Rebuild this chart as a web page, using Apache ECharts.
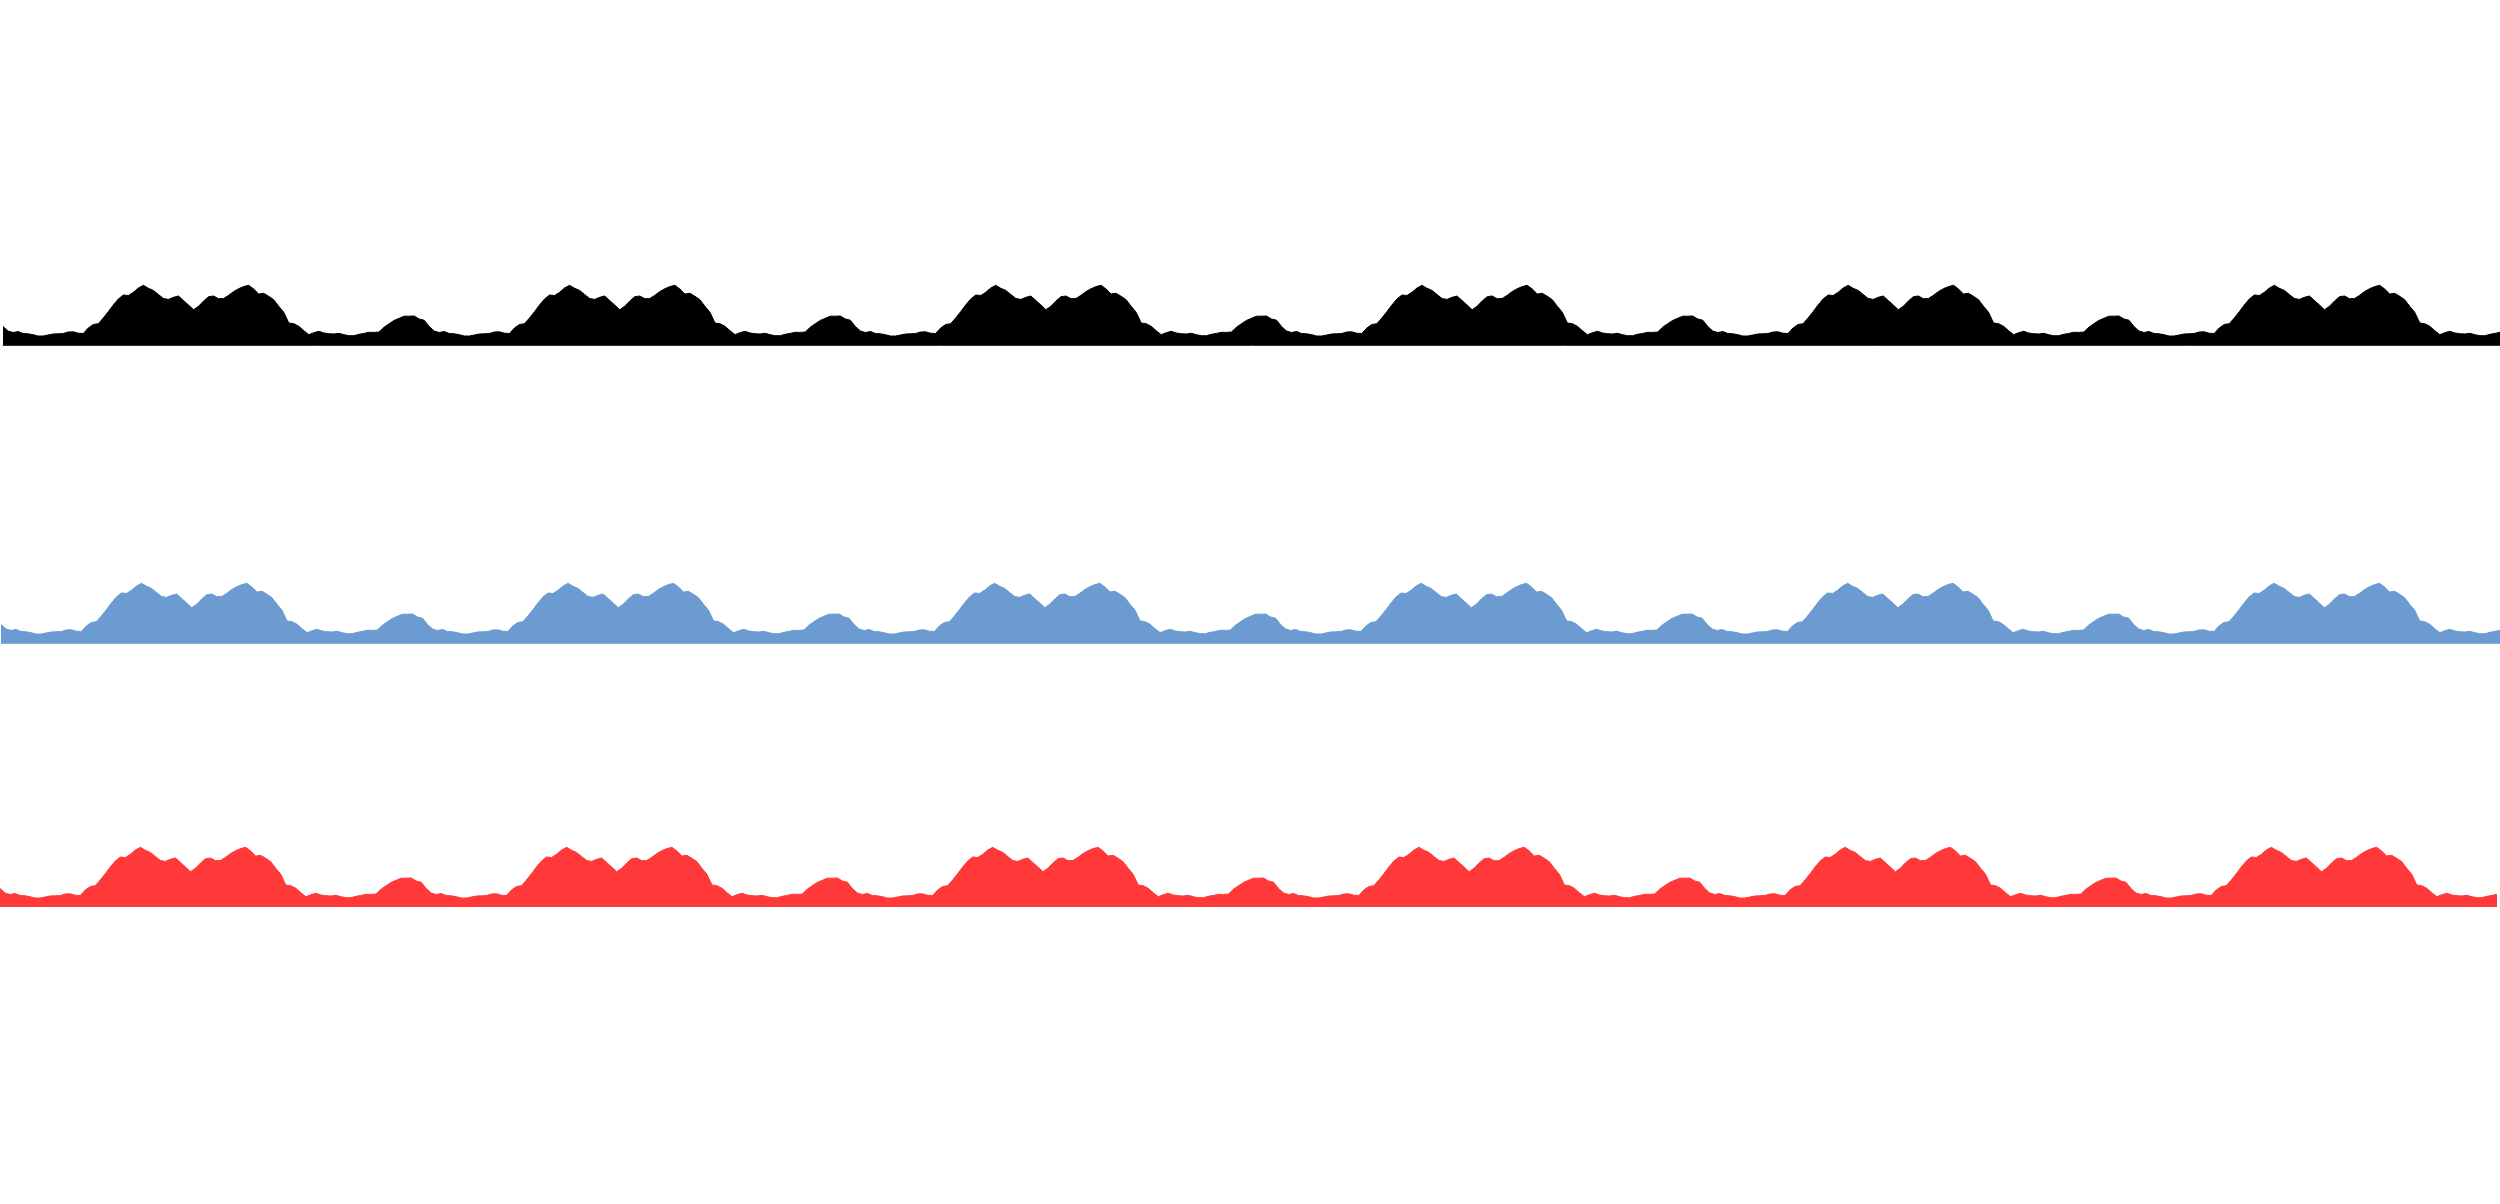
<!DOCTYPE html>
<html>
<head>
<meta charset="utf-8">
<script src="https://cdn.jsdelivr.net/npm/echarts@6/dist/echarts.min.js"></script>
<style>
html,body{margin:0;padding:0;background:#fff;}
#chart{width:2500px;height:1204px;}
</style>
</head>
<body>
<div id="chart"></div>
<script>
// Heights (same terrain profile in all three panels)
const values = [
18.5,14,12.5,13.5,11.5,11.2,10.3,9,9,10,11,11.2,11.5,13,13.2,11.8,11.5,17,20.5,21.3,27,33.3,40,46,50,49.5,52.7,57,59.7,56.7,54.6,50.5,46.5,45.6,47.7,49,44.5,40,35.3,38.8,44,48.3,49,46.3,46.5,49.7,53.5,56.3,58.4,59.7,56,51,51.7,48.7,45.3,38.7,32.7,22,21.3,18.7,14.3,10.3,12.3,13.7,12,11.3,11,11.7,10.3,9.3,9.3,10.7,11.6,12.7,12.6,13,17.8,21.3,24.6,26.7,28.8,28.8,29,26,24.8,
18.5,14,12.5,13.5,11.5,11.2,10.3,9,9,10,11,11.2,11.5,13,13.2,11.8,11.5,17,20.5,21.3,27,33.3,40,46,50,49.5,52.7,57,59.7,56.7,54.6,50.5,46.5,45.6,47.7,49,44.5,40,35.3,38.8,44,48.3,49,46.3,46.5,49.7,53.5,56.3,58.4,59.7,56,51,51.7,48.7,45.3,38.7,32.7,22,21.3,18.7,14.3,10.3,12.3,13.7,12,11.3,11,11.7,10.3,9.3,9.3,10.7,11.6,12.7,12.6,13,17.8,21.3,24.6,26.7,28.8,28.8,29,26,24.8,
18.5,14,12.5,13.5,11.5,11.2,10.3,9,9,10,11,11.2,11.5,13,13.2,11.8,11.5,17,20.5,21.3,27,33.3,40,46,50,49.5,52.7,57,59.7,56.7,54.6,50.5,46.5,45.6,47.7,49,44.5,40,35.3,38.8,44,48.3,49,46.3,46.5,49.7,53.5,56.3,58.4,59.7,56,51,51.7,48.7,45.3,38.7,32.7,22,21.3,18.7,14.3,10.3,12.3,13.7,12,11.3,11,11.7,10.3,9.3,9.3,10.7,11.6,12.7,12.6,13,17.8,21.3,24.6,26.7,28.8,28.8,29,26,24.8,
18.5,14,12.5,13.5,11.5,11.2,10.3,9,9,10,11,11.2,11.5,13,13.2,11.8,11.5,17,20.5,21.3,27,33.3,40,46,50,49.5,52.7,57,59.7,56.7,54.6,50.5,46.5,45.6,47.7,49,44.5,40,35.3,38.8,44,48.3,49,46.3,46.5,49.7,53.5,56.3,58.4,59.7,56,51,51.7,48.7,45.3,38.7,32.7,22,21.3,18.7,14.3,10.3,12.3,13.7,12,11.3,11,11.7,10.3,9.3,9.3,10.7,11.6,12.7,12.6,13,17.8,21.3,24.6,26.7,28.8,28.8,29,26,24.8,
18.5,14,12.5,13.5,11.5,11.2,10.3,9,9,10,11,11.2,11.5,13,13.2,11.8,11.5,17,20.5,21.3,27,33.3,40,46,50,49.5,52.7,57,59.7,56.7,54.6,50.5,46.5,45.6,47.7,49,44.5,40,35.3,38.8,44,48.3,49,46.3,46.5,49.7,53.5,56.3,58.4,59.7,56,51,51.7,48.7,45.3,38.7,32.7,22,21.3,18.7,14.3,10.3,12.3,13.7,12,11.3,11,11.7,10.3,9.3,9.3,10.7,11.6,12.7,12.6,13,17.8,21.3,24.6,26.7,28.8,28.8,29,26,24.8,
18.5,14,12.5,13.5,11.5,11.2,10.3,9,9,10,11,11.2,11.5,13,13.2,11.8,11.5,17,20.5,21.3,27,33.3,40,46,50,49.5,52.7,57,59.7,56.7,54.6,50.5,46.5,45.6,47.7,49,44.5,40,35.3,38.8,44,48.3,49,46.3,46.5,49.7,53.5,56.3,58.4,59.7,56,51,51.7,48.7,45.3,38.7,32.7,22,21.3,18.7,14.3,10.3,12.3,13.7,12,11.3,11,11.7,10.3,9.3,9.3,10.7,11.6,12.7
];
const categories = values.map((v, i) => i);
const seriesColors = ['#000000', '#6b9bd0', '#ff3939'];
const axisLineColors = ['#333333', '#86ade0', null];

const chart = echarts.init(document.getElementById('chart'));
const grids = [
  {left: 3, right: 0, top: 245, height: 100},
  {left: 1, right: 0, top: 543, height: 100},
  {left: -1, right: 3, top: 807, height: 100}
];
const option = {
  animation: false,
  backgroundColor: '#ffffff',
  grid: grids.map(g => Object.assign({containLabel: false}, g)),
  xAxis: grids.map((g, k) => ({
    type: 'category',
    gridIndex: k,
    data: categories,
    boundaryGap: false,
    axisLabel: {show: false},
    axisTick: {show: false},
    splitLine: {show: false},
    axisLine: {show: axisLineColors[k] !== null, lineStyle: {color: axisLineColors[k] || '#000', width: 1}}
  })),
  yAxis: grids.map((g, k) => ({
    type: 'value',
    gridIndex: k,
    min: 0,
    max: 100,
    show: false,
    splitLine: {show: false}
  })),
  series: grids.map((g, k) => ({
    type: 'line',
    xAxisIndex: k,
    yAxisIndex: k,
    data: values,
    showSymbol: false,
    symbol: 'none',
    sampling: null,
    lineStyle: {color: seriesColors[k], width: 1},
    itemStyle: {color: seriesColors[k]},
    areaStyle: {color: seriesColors[k], opacity: 1}
  }))
};
chart.setOption(option);
</script>
</body>
</html>
